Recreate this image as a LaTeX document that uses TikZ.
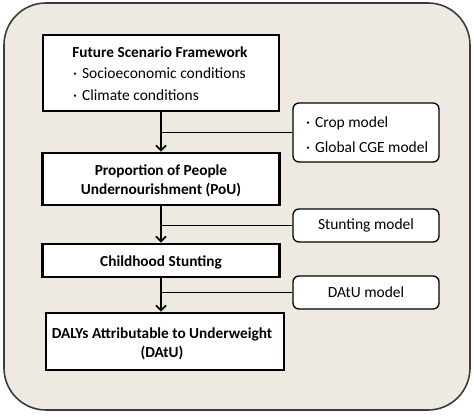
\documentclass[tikz,border=0pt]{standalone}
\usepackage{fontspec}
\setmainfont{Carlito}
\usetikzlibrary{arrows.meta}
\definecolor{beige}{HTML}{EEEAE2}
\definecolor{frame}{HTML}{3C3C3C}
\begin{document}
\begin{tikzpicture}[x=1pt,y=-1pt,
  every node/.style={font=\fontsize{15.5}{19}\selectfont, inner sep=0pt},
  mainbox/.style={draw, line width=2.6pt, fill=white},
  sidebox/.style={draw, line width=1.3pt, fill=white, rounded corners=6pt},
  flow/.style={line width=1.8pt, -{Straight Barb[length=5pt,width=10pt,line width=1.8pt]}},
  link/.style={line width=1.8pt},
  title/.style={font=\fontsize{15.3}{19}\selectfont\bfseries, align=center}]
\useasboundingbox (0,0) rectangle (474,417);
\draw[fill=beige, draw=frame, line width=1.6pt, rounded corners=42pt] (4,3) rectangle (470,410);
% main boxes
\node[mainbox, minimum width=236pt, minimum height=76pt] (fsf) at (161,73) {};
\node[title] (fsft) at (160,52) {Future Scenario Framework};
\node[anchor=west] (b1) at (73,73.5) {·\hspace{5pt}Socioeconomic conditions};
\node[anchor=west] (b2) at (73,95) {·\hspace{5pt}Climate conditions};
\node[mainbox, minimum width=237pt, minimum height=52pt] (pou) at (161,179) {};
\node[title] (pout) at (161,180.5) {Proportion of People\\Undernourishment (PoU)};
\node[mainbox, minimum width=237pt, minimum height=33pt] (stunt) at (161,260.5) {};
\node[title] (stuntt) at (161,262) {Childhood Stunting};
\node[mainbox, minimum width=238pt, minimum height=57pt] (daly) at (165,341.5) {};
\node[title] (dalyt) at (162,344) {DALYs Attributable to Underweight\\(DAtU)};
% side boxes
\node[sidebox, minimum width=146pt, minimum height=59pt] (crop) at (366,132.5) {};
\node[anchor=west] (c1) at (306,123.5) {·\hspace{5pt}Crop model};
\node[anchor=west] (c2) at (306,147.5) {·\hspace{5pt}Global CGE model};
\node[sidebox, minimum width=146pt, minimum height=33pt] (stm) at (366,225.5) {Stunting model};
\node[sidebox, minimum width=146pt, minimum height=33pt] (datm) at (366,292.5) {DAtU model};
% connectors
\draw[flow] (fsf.south) -- (pou.north);
\draw[flow] (pou.south) -- (stunt.north);
\draw[flow] (stunt.south) -- (stunt.south |- daly.north);
\draw[link] (crop.west) -- (crop.west -| fsf.south);
\draw[link] (stm.west) -- (stm.west -| pou.south);
\draw[link] (datm.west) -- (datm.west -| stunt.south);
\end{tikzpicture}
\end{document}
